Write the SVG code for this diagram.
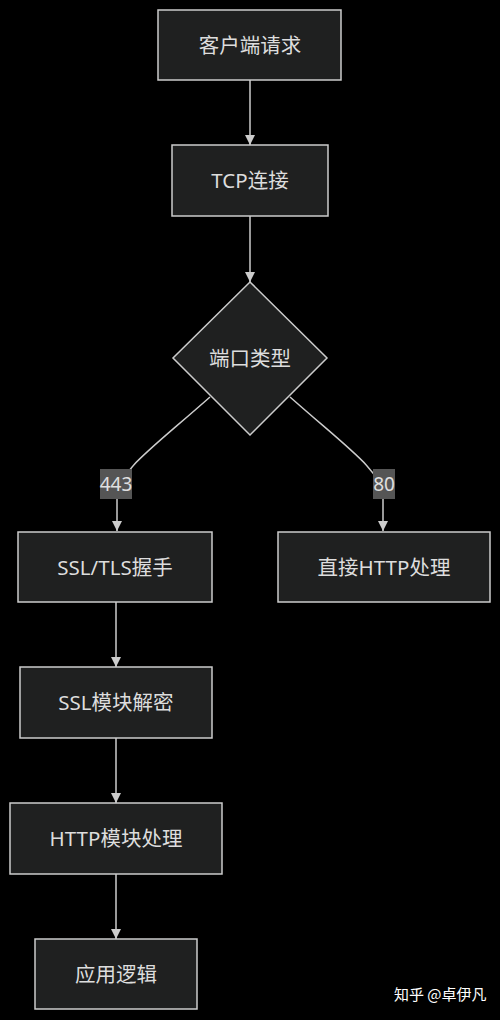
<svg xmlns="http://www.w3.org/2000/svg" width="500" height="1020" viewBox="0 0 500 1020">
<style>
.node rect,.node polygon{fill:#1f2020;stroke:#cccccc;stroke-width:1.5}
.node text{fill:#dddddd;font-family:"Noto Sans","Noto Sans CJK SC",sans-serif;font-size:20.5px;text-anchor:middle;dominant-baseline:central}
.edge{fill:none;stroke:#cccccc;stroke-width:1.5}
.lbl rect{fill:#555555}
.lbl text{fill:#e0e0e0;font-family:"Noto Sans",sans-serif;font-size:19px;text-anchor:middle;dominant-baseline:central}
.wm{fill:#ffffff;font-family:"Noto Sans CJK SC","Noto Sans",sans-serif;font-size:15px}
</style>
<defs>
<marker id="arr" viewBox="0 0 10 10" refX="10" refY="5" markerWidth="10" markerHeight="10" markerUnits="userSpaceOnUse" orient="auto">
<path d="M0,0 L10,5 L0,10 z" fill="#cccccc"/>
</marker>
</defs>
<rect width="500" height="1020" fill="#000000"/>
<g id="connectors">
<path class="edge" d="M250,80 L250,145" marker-end="url(#arr)"/>
<path class="edge" d="M250,216 L250,282" marker-end="url(#arr)"/>
<path class="edge" d="M210,397 C150,450 120,470 117,495 L117,531" marker-end="url(#arr)"/>
<path class="edge" d="M290,397 C350,450 380,470 383,495 L383,531" marker-end="url(#arr)"/>
<path class="edge" d="M116,602 L116,667" marker-end="url(#arr)"/>
<path class="edge" d="M116,738 L116,803" marker-end="url(#arr)"/>
<path class="edge" d="M116,874 L116,939" marker-end="url(#arr)"/>
<g class="lbl" id="label-443"><rect x="100" y="469" width="32" height="30"/><text x="116" y="484">443</text></g>
<g class="lbl" id="label-80"><rect x="373" y="469" width="22" height="30"/><text x="384" y="484">80</text></g>
</g>
<g class="node" id="client"><rect x="158" y="10" width="183" height="70"/><text x="250" y="45">客户端请求</text></g>
<g class="node" id="tcp"><rect x="172" y="145" width="156" height="71"/><text x="250" y="180">TCP连接</text></g>
<g class="node" id="port"><polygon points="250,282 327,358 250,435 173,358"/><text x="250" y="358">端口类型</text></g>
<g class="node" id="ssltls"><rect x="18" y="532" width="194" height="70"/><text x="115" y="567">SSL/TLS握手</text></g>
<g class="node" id="direct"><rect x="278" y="532" width="212" height="70"/><text x="384" y="567">直接HTTP处理</text></g>
<g class="node" id="ssldec"><rect x="20" y="667" width="192" height="71"/><text x="116" y="702">SSL模块解密</text></g>
<g class="node" id="httpmod"><rect x="10" y="803" width="212" height="71"/><text x="116" y="838">HTTP模块处理</text></g>
<g class="node" id="app"><rect x="35" y="939" width="162" height="70"/><text x="116" y="974">应用逻辑</text></g>
<text class="wm" x="394" y="1000">知乎 @卓伊凡</text>
</svg>
